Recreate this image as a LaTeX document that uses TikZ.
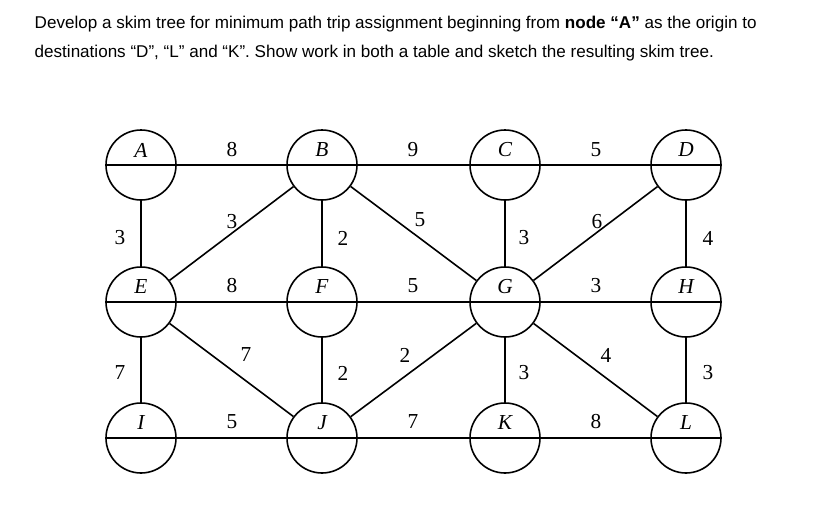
\documentclass[tikz,border=0pt]{standalone}
\usepackage{fontspec}
\setmainfont{Liberation Serif}
\newfontfamily\titlefont{Liberation Sans}
\begin{document}
\begin{tikzpicture}[x=0.75pt,y=-0.75pt,
  nd/.style={circle,draw,line width=1.2pt,minimum size=52.5pt,inner sep=0pt},
  ed/.style={line width=1.2pt},
  wt/.style={font=\fontsize{16}{16}\selectfont}]
\useasboundingbox (0,0) rectangle (819,514);
\node[anchor=west,font=\titlefont\fontsize{12.8}{14}\selectfont] (t1) at (30,24) {Develop a skim tree for minimum path trip assignment beginning from \textbf{node “A”} as the origin to};
\node[anchor=west,font=\titlefont\fontsize{12.8}{14}\selectfont] (t2) at (30,53) {destinations “D”, “L” and “K”. Show work in both a table and sketch the resulting skim tree.};
\foreach \n/\x/\y in {A/141/165,B/322/165,C/505/165,D/686/165,E/141/302,F/322/302,G/505/302,H/686/302,I/141/438,J/322/438,K/505/438,L/686/438}{
  \node[nd] (\n) at (\x,\y) {};
  \draw[ed] (\n.west) -- (\n.east);
  \node[font=\itshape\fontsize{16}{16}\selectfont] (l\n) at (\x,\y-15) {\n};
}
\draw[ed] (A) -- (B) -- (C) -- (D);
\draw[ed] (E) -- (F) -- (G) -- (H);
\draw[ed] (A) -- (E) -- (I);
\draw[ed] (B) -- (F) -- (J);
\draw[ed] (C) -- (G) -- (K);
\draw[ed] (D) -- (H) -- (L);
\draw[ed] (I) -- (J) -- (K) -- (L);
\draw[ed] (E) -- (B) -- (G) -- (D);
\draw[ed] (E) -- (J) -- (G) -- (L);
\foreach \t/\x/\y in {8/232/150,9/413/150,5/596/150,3/120/238,3/232/222,2/343/238,5/420/220,3/524/238,6/597/222,4/708/238,8/232/286,5/413/286,3/596/286,7/120/373,7/246/355,2/343/373,2/405/355,3/524/373,4/606/355,3/708/373,5/232/422,7/413/422,8/596/422}{
  \node[wt] at (\x,\y) {\t};
}
\end{tikzpicture}
\end{document}
